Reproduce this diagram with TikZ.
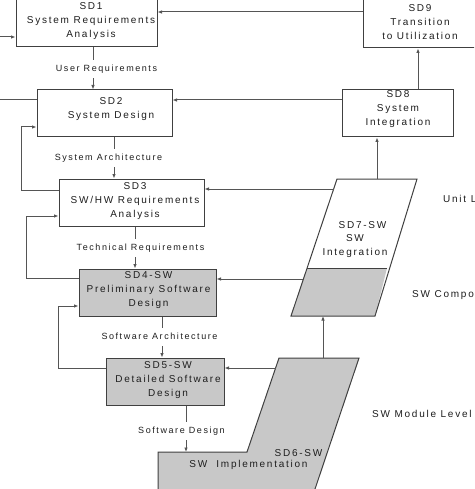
\documentclass[tikz,border=0pt]{standalone}
\usepackage{fontspec}
\setmainfont{Liberation Sans}[LetterSpace=17.5]
\usetikzlibrary{arrows.meta}
\definecolor{linec}{HTML}{555555}
\definecolor{boxc}{HTML}{404040}
\definecolor{greyc}{HTML}{C8C8C8}
\definecolor{txtc}{HTML}{1E1E1E}
\begin{document}
\begin{tikzpicture}[x=1pt,y=-1pt,
  box/.style={draw=boxc, line width=1pt, fill=white, inner sep=0pt},
  gbox/.style={box, fill=greyc},
  shp/.style={draw=boxc, line width=1pt},
  txt/.style={font=\fontsize{10}{14}\selectfont, align=center, inner sep=0pt, text=txtc},
  side/.style={font=\fontsize{10}{14}\selectfont, anchor=west, inner sep=0pt, text=txtc},
  lab/.style={font=\fontsize{9}{11}\selectfont, inner xsep=2pt, inner ysep=4.5pt, text height=7pt, text depth=2pt, text=txtc},
  ln/.style={draw=linec, line width=1pt},
  arr/.style={ln, -{Latex[length=4.5pt,width=3.6pt]}}]
\useasboundingbox (0,0) rectangle (474,489);
\clip (0,0) rectangle (474,489);
\fill[white] (0,0) rectangle (474,489);

% boxes
\node[box, minimum width=141pt, minimum height=51pt] (sd1) at (86.5,21.5) {};
\node[box, minimum width=135pt, minimum height=47pt] (sd2) at (104.5,113.5) {};
\node[box, minimum width=145pt, minimum height=47pt] (sd3) at (131.5,202.5) {};
\node[gbox, minimum width=137pt, minimum height=47pt] (sd4) at (147.5,292.5) {};
\node[gbox, minimum width=118pt, minimum height=47pt] (sd5) at (165,381.5) {};
\node[box, minimum width=111pt, minimum height=47pt] (sd8) at (397.5,113.5) {};
\node[box, minimum width=117pt, minimum height=48pt] (sd9) at (421.5,24) {};

% box texts
\node[txt] (sd1t) at (91,21.5) {SD1\\System Requirements\\Analysis};
\node[txt] (sd2t) at (111,109.5) {SD2\\System Design};
\node[txt] (sd3t) at (135,201) {SD3\\SW/HW Requirements\\Analysis};
\node[txt] (sd4t) at (148.5,290) {SD4-SW\\Preliminary Software\\Design};
\node[txt] (sd5t) at (168,380) {SD5-SW\\Detailed Software\\Design};
\node[txt] (sd8t) at (398,109.5) {SD8\\System\\Integration};
\node[txt] (sd9t) at (420,22) {SD9\\Transition\\to Utilization};

% SD7 parallelogram
\coordinate (sd7nw) at (337,179);
\coordinate (sd7ne) at (417,179);
\coordinate (sd7se) at (375,316);
\coordinate (sd7sw) at (291,316);
\coordinate (sd7dl) at (307,268);
\coordinate (sd7dr) at (387,268);
\fill[white] (sd7nw) -- (sd7ne) -- (sd7dr) -- (sd7dl) -- cycle;
\fill[greyc] (sd7dl) -- (sd7dr) -- (sd7se) -- (sd7sw) -- cycle;
\draw[shp] (sd7nw) -- (sd7ne) -- (sd7se) -- (sd7sw) -- cycle;
\draw[shp] (sd7dl) -- (sd7dr);
\node[txt] (sd7t) at (362.5,225) {SD7-SW};
\node[txt] (sd7u) at (355,246) {SW\\Integration};

% SD6 shape
\coordinate (sd6a) at (158,495);
\coordinate (sd6b) at (158,452);
\coordinate (sd6c) at (247,452);
\coordinate (sd6nw) at (279,358);
\coordinate (sd6ne) at (359,358);
\coordinate (sd6f) at (313,495);
\draw[shp, fill=greyc] (sd6a) -- (sd6b) -- (sd6c) -- (sd6nw) -- (sd6ne) -- (sd6f) -- cycle;
\node[txt] (sd6t) at (298.5,453) {SD6-SW};
\node[txt] (sd6u) at (248.5,465) {SW\ \ Implementation};

% side labels
\node[side] (lvl1) at (443,199) {Unit Level};
\node[side] (lvl2) at (412,295) {SW Component Level};
\node[side] (lvl3) at (372,414) {SW Module Level};

% flow labels
\node[lab] (ur) at (106.5,69) {User Requirements};
\node[lab] (sa) at (108.5,158) {System Architecture};
\node[lab] (tr) at (140.5,248) {Technical Requirements};
\node[lab] (swa) at (159.5,337) {Software Architecture};
\node[lab] (swd) at (181.5,431) {Software Design};

% columns
\coordinate (c1) at (93,0);
\coordinate (c2) at (114,0);
\coordinate (c3) at (135,0);
\coordinate (c4) at (162,0);
\coordinate (c5) at (186,0);
\coordinate (c6) at (323,0);
\coordinate (c7) at (377,0);
\coordinate (c8) at (418,0);

% downward flow
\draw[ln] (sd1.south -| c1) -- (ur.north -| c1);
\draw[arr] (ur.south -| c1) -- (sd2.north -| c1);
\draw[ln] (sd2.south -| c2) -- (sa.north -| c2);
\draw[arr] (sa.south -| c2) -- (sd3.north -| c2);
\draw[ln] (sd3.south -| c3) -- (tr.north -| c3);
\draw[arr] (tr.south -| c3) -- (sd4.north -| c3);
\draw[ln] (sd4.south -| c4) -- (swa.north -| c4);
\draw[arr] (swa.south -| c4) -- (sd5.north -| c4);
\draw[ln] (sd5.south -| c5) -- (swd.north -| c5);
\draw[arr] (swd.south -| c5) -- (sd6b -| c5);

% upward flow
\draw[arr] (sd6ne -| c6) -- (sd7sw -| c6);
\draw[arr] (sd7nw -| c7) -- (sd8.south -| c7);
\draw[arr] (sd8.north -| c8) -- (sd9.south -| c8);

% right-to-left returns
\coordinate (r1) at (0,12);
\coordinate (r2) at (0,100);
\coordinate (sd7a) at (333.6,189);
\coordinate (sd7b) at (303.4,279);
\coordinate (sd6d) at (275.6,368);
\draw[arr] (sd9.west |- r1) -- (sd1.east |- r1);
\draw[arr] (sd8.west |- r2) -- (sd2.east |- r2);
\draw[arr] (sd7a) -- (sd3.east |- sd7a);
\draw[arr] (sd7b) -- (sd4.east |- sd7b);
\draw[arr] (sd6d) -- (sd5.east |- sd6d);

% left edge
\coordinate (l1) at (-5,37);
\coordinate (l2) at (-5,100);
\draw[arr] (l1) -- (sd1.west |- l1);
\draw[ln] (sd2.west |- l2) -- (l2);

% feedback loops
\coordinate (fa1) at (21.7,190);
\coordinate (fb1) at (21.7,127);
\draw[arr] (sd3.west |- fa1) -- (fa1) -- (fb1) -- (sd2.west |- fb1);
\coordinate (fa2) at (26,278);
\coordinate (fb2) at (26,216);
\draw[arr] (sd4.west |- fa2) -- (fa2) -- (fb2) -- (sd3.west |- fb2);
\coordinate (fa3) at (58.7,368);
\coordinate (fb3) at (58.7,306);
\draw[arr] (sd5.west |- fa3) -- (fa3) -- (fb3) -- (sd4.west |- fb3);
\end{tikzpicture}
\end{document}
